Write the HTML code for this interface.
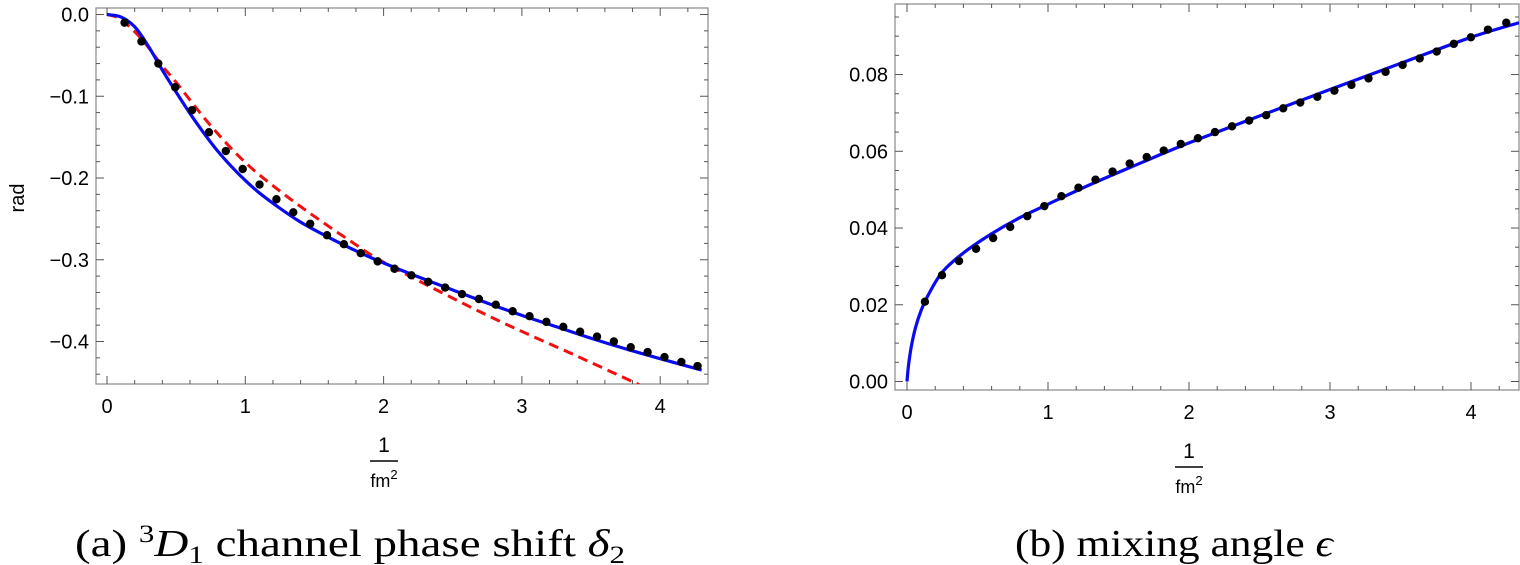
<!DOCTYPE html>
<html><head><meta charset="utf-8">
<style>
html,body{margin:0;padding:0;background:#fff;}
svg{display:block;}
text{font-family:"Liberation Sans",sans-serif;}
.cap{font-family:"Liberation Serif",serif;font-size:38px;}
</style></head>
<body>
<svg id="fig" width="1520" height="565" viewBox="0 0 1520 565"></svg>
<script>
// ---- Chart (a) data ----
const aPointX = [0.127,0.249,0.371,0.493,0.615,0.737,0.859,0.981,1.103,1.225,1.347,1.469,1.591,1.713,1.835,1.957,2.079,2.201,2.323,2.445,2.567,2.689,2.811,2.933,3.055,3.177,3.299,3.421,3.543,3.665,3.787,3.909,4.031,4.153,4.27];
const aPointY = [-0.010,-0.033,-0.060,-0.089,-0.117,-0.144,-0.167,-0.189,-0.208,-0.226,-0.242,-0.256,-0.270,-0.281,-0.292,-0.302,-0.311,-0.319,-0.327,-0.334,-0.342,-0.348,-0.355,-0.363,-0.369,-0.376,-0.382,-0.388,-0.394,-0.400,-0.407,-0.413,-0.419,-0.425,-0.430];
const aFitX = [0,0.1,0.2,0.3,0.4,0.5,0.6,0.7,0.8,0.9,1.0,1.1,1.25,1.4,1.55,1.7,1.85,2.0,2.25,2.5,2.75,3.0,3.25,3.5,3.75,4.0,4.3];
const aFitY = [0,-0.003,-0.015,-0.039,-0.068,-0.095,-0.121,-0.145,-0.167,-0.186,-0.203,-0.218,-0.237,-0.254,-0.268,-0.281,-0.293,-0.304,-0.321,-0.337,-0.353,-0.368,-0.382,-0.396,-0.409,-0.421,-0.435];
const aRedX = [0,0.1,0.25,0.4,0.5,0.75,1.0,1.25,1.5,1.75,2.0,2.5,2.9,3.4,3.85];
const aRedY = [0,-0.006,-0.03,-0.063,-0.083,-0.136,-0.181,-0.216,-0.247,-0.276,-0.303,-0.347,-0.38,-0.418,-0.453];
const aXTicks = [0,1,2,3,4];
const aYTicks = [0.0,-0.1,-0.2,-0.3,-0.4];
const aYLabels = ["0.0","\u22120.1","\u22120.2","\u22120.3","\u22120.4"];
// ---- Chart (b) data ----
const bPointX = [0.127,0.248,0.369,0.490,0.611,0.732,0.853,0.974,1.095,1.216,1.337,1.458,1.579,1.700,1.821,1.942,2.063,2.184,2.305,2.426,2.547,2.668,2.789,2.910,3.031,3.152,3.273,3.394,3.515,3.636,3.757,3.878,3.999,4.120,4.25];
const bPointY = [0.0208,0.0277,0.0314,0.0346,0.0374,0.0403,0.0431,0.0457,0.0483,0.0505,0.0526,0.0547,0.0568,0.0585,0.0602,0.0619,0.0634,0.0650,0.0665,0.0680,0.0694,0.0712,0.0727,0.0742,0.0758,0.0773,0.0790,0.0807,0.0825,0.0842,0.0860,0.0880,0.0897,0.0917,0.0935];
const bFitX = [0,0.01,0.03,0.06,0.1,0.15,0.25,0.4,0.6,0.8,1.0,1.25,1.5,1.75,2.0,2.5,3.0,3.5,4.0,4.34];
const bFitY = [0,0.004,0.009,0.014,0.0185,0.0225,0.0285,0.0335,0.0385,0.0427,0.0462,0.0505,0.0545,0.0584,0.0622,0.0692,0.0761,0.0829,0.0897,0.0935];
const bXTicks = [0,1,2,3,4];
const bYTicks = [0,0.02,0.04,0.06,0.08];
const bYLabels = ["0.00","0.02","0.04","0.06","0.08"];

const NS="http://www.w3.org/2000/svg";
const svg=document.getElementById('fig');
function mk(tag,attrs,parent){const e=document.createElementNS(NS,tag);for(const k in attrs)e.setAttribute(k,attrs[k]);(parent||svg).appendChild(e);return e;}

function smoothPath(xs,ys,sx,sy){
  const p=xs.map((x,i)=>[sx(x),sy(ys[i])]);
  let d='M'+p[0][0]+','+p[0][1];
  for(let i=0;i<p.length-1;i++){
    const p0=p[i-1]||p[i],p1=p[i],p2=p[i+1],p3=p[i+2]||p2;
    const c1=[p1[0]+(p2[0]-p0[0])/6,p1[1]+(p2[1]-p0[1])/6];
    const c2=[p2[0]-(p3[0]-p1[0])/6,p2[1]-(p3[1]-p1[1])/6];
    d+=' C'+c1+' '+c2+' '+p2;
  }
  return d;
}

function chart(cfg){
  const g=mk('g',{});
  
  
  const sx=v=>cfg.x0px+v*cfg.xs;
  const sy=v=>cfg.y0px-(v-cfg.yref)*cfg.ys;
  const L=cfg.L,R=cfg.R,T=cfg.T,B=cfg.B;
  const clipId=cfg.name+'-clip';
  const cp=mk('clipPath',{id:clipId},g);mk('rect',{x:L,y:T,width:R-L,height:B-T},cp);
  const frame=mk('rect',{x:L,y:T,width:R-L,height:B-T,fill:'none',stroke:'#888','stroke-width':1.2},g);
  
  
  for(let v=0;v<=cfg.xmax+1e-9;v+=0.2){
    const x=sx(v);const major=Math.abs(v-Math.round(v))<1e-6;const len=major?8:4;
    mk('line',{x1:x,y1:B,x2:x,y2:B-len,stroke:'#555','stroke-width':1},g);
    mk('line',{x1:x,y1:T,x2:x,y2:T+len,stroke:'#555','stroke-width':1},g);
  }
  cfg.xticks.forEach(v=>{
    const t=mk('text',{x:sx(v),y:B+29,'font-size':20,'text-anchor':'middle'},g);t.textContent=String(v);
    
    
  });
  const n=Math.round((cfg.ymaxT-cfg.yminT)/cfg.yminor);
  for(let i=0;i<=n;i++){
    const v=cfg.yminT+i*cfg.yminor;const y=sy(v);if(y<T-0.5||y>B+0.5)continue;
    const major=cfg.yticks.some(t=>Math.abs(t-v)<1e-9);const len=major?8:4;
    mk('line',{x1:L,y1:y,x2:L+len,y2:y,stroke:'#555','stroke-width':1},g);
    mk('line',{x1:R,y1:y,x2:R-len,y2:y,stroke:'#555','stroke-width':1},g);
  }
  cfg.yticks.forEach((v,i)=>{
    const t=mk('text',{x:L-7,y:sy(v)+7,'font-size':20,'text-anchor':'end'},g);t.textContent=cfg.ylabels[i];
    
    
  });
  const pg=mk('g',{'clip-path':'url(#'+clipId+')'},g);
  if(cfg.redX){
    const r=mk('path',{d:smoothPath(cfg.redX,cfg.redY,sx,sy),fill:'none',stroke:'#f01010','stroke-width':3,'stroke-dasharray':'10,6'},pg);
    
    
  }
  const b=mk('path',{d:smoothPath(cfg.fitX,cfg.fitY,sx,sy),fill:'none',stroke:'#0a0af0','stroke-width':3.2},pg);
  
  
  cfg.px.forEach((x,i)=>{
    const c=mk('circle',{cx:sx(x),cy:sy(cfg.py[i]),r:4.2,fill:'#000'},g);
    
    
  });
  const cx=cfg.labelX;
  const one=mk('text',{x:cx,y:B+68,'font-size':21,'text-anchor':'middle'},g);one.textContent='1';
  
  
  mk('line',{x1:cx-14,y1:B+77,x2:cx+14,y2:B+77,stroke:'#000','stroke-width':1.4},g);
  const fm=mk('text',{x:cx,y:B+103,'font-size':18,'text-anchor':'middle'},g);
  fm.innerHTML='fm<tspan dy="-8" font-size="13">2</tspan>';
  
  
}

chart({name:'chart-a-phase-shift',L:96,R:708,T:8,B:384,x0px:107,xs:138.3,y0px:14.5,yref:0,ys:817.5,xmax:4.2,
  yminT:-0.46,ymaxT:0.0,yminor:0.02,xticks:aXTicks,yticks:aYTicks,ylabels:aYLabels,
  px:aPointX,py:aPointY,fitX:aFitX,fitY:aFitY,redX:aRedX,redY:aRedY,labelX:384});
chart({name:'chart-b-mixing-angle',L:895,R:1519,T:4,B:390,x0px:907,xs:141,y0px:381.5,yref:0,ys:3837,xmax:4.3,
  yminT:0,ymaxT:0.1,yminor:0.005,xticks:bXTicks,yticks:bYTicks,ylabels:bYLabels,
  px:bPointX,py:bPointY,fitX:bFitX,fitY:bFitY,labelX:1189});

const yl=mk('text',{x:0,y:0,'font-size':20,'text-anchor':'middle',transform:'translate(24,198) rotate(-90)'});yl.textContent='rad';



const c1=mk('text',{x:75,y:556,class:'cap',textLength:550,lengthAdjust:'spacingAndGlyphs'});
c1.innerHTML='(a) <tspan dy="-14" font-size="25">3</tspan><tspan dy="14" font-style="italic">D</tspan><tspan dy="7" font-size="25">1</tspan><tspan dy="-7"> channel phase shift </tspan><tspan font-style="italic">δ</tspan><tspan dy="7" font-size="25">2</tspan>';


const c2=mk('text',{x:1015,y:556,class:'cap',textLength:318,lengthAdjust:'spacingAndGlyphs'});
c2.innerHTML='(b) mixing angle <tspan font-style="italic">ϵ</tspan>';


</script>
</body></html>
